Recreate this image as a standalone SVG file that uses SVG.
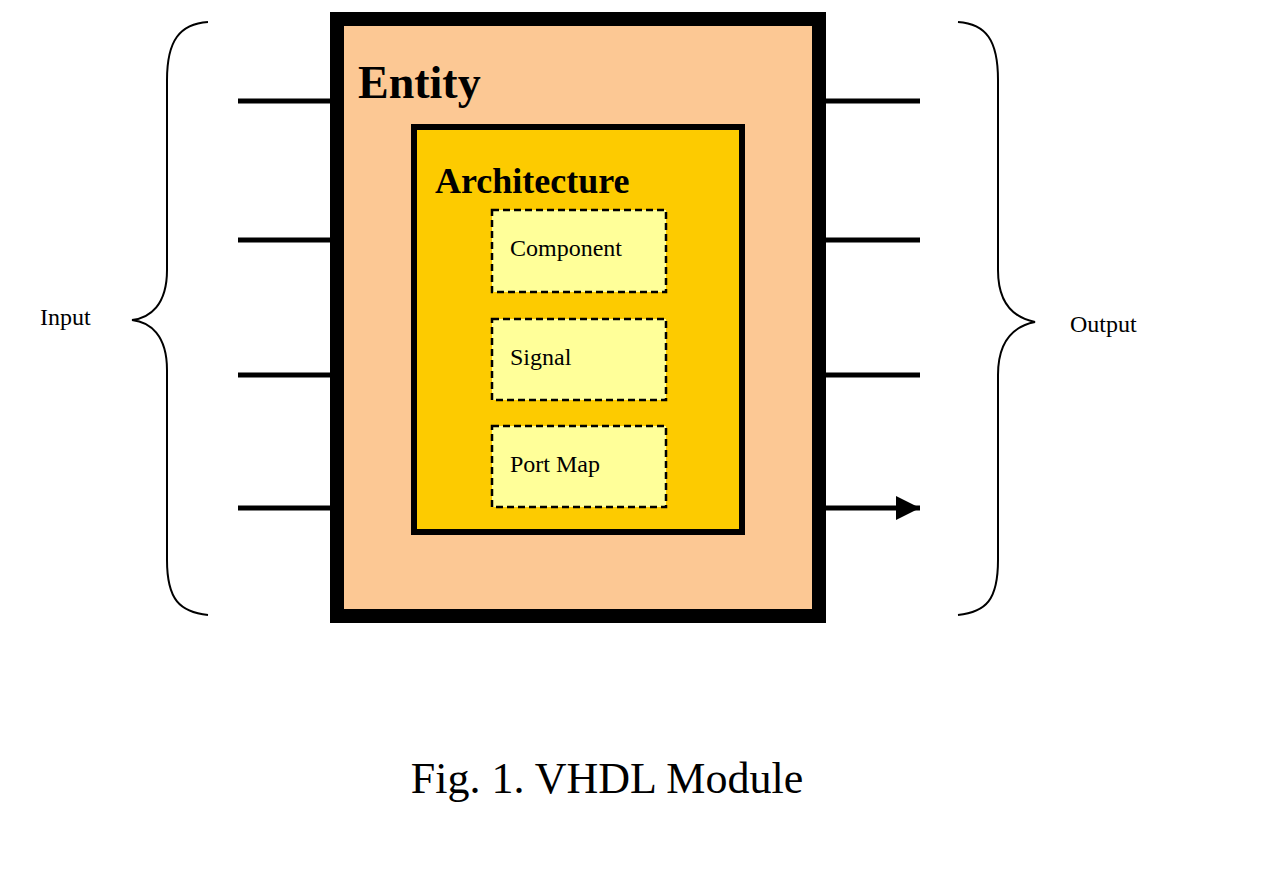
<svg xmlns="http://www.w3.org/2000/svg" width="1261" height="879" viewBox="0 0 1261 879">
<style>
.t{font-family:"Liberation Serif",serif;fill:#000}
.b{font-weight:bold}
.dash{fill:#ffff99;stroke:#000;stroke-width:2.5;stroke-dasharray:7 4}
.ar{stroke:#000;stroke-width:5;fill:none}
.br{stroke:#000;stroke-width:2;fill:none}
</style>
<defs><marker id="ah" viewBox="0 0 10 10" refX="9" refY="5" markerWidth="5" markerHeight="6" orient="auto" markerUnits="userSpaceOnUse"><path d="M0,0 L10,5 L0,10 z"/></marker>
<marker id="a" viewBox="0 0 10 10" refX="10" refY="5" markerWidth="24" markerHeight="28" orient="auto" markerUnits="userSpaceOnUse"><path d="M0,0 L10,5 L0,10 z" fill="#000"/></marker></defs>
<rect width="1261" height="879" fill="#fff"/>
<g id="entity"><rect x="337" y="19" width="482" height="597" fill="#fcc894" stroke="#000" stroke-width="14"/>
<text class="t b" x="358" y="98" font-size="46">Entity</text></g>
<g id="architecture"><rect x="414" y="127" width="328" height="405" fill="#fdcb00" stroke="#000" stroke-width="6"/>
<text class="t b" x="435" y="193" font-size="36">Architecture</text></g>
<g id="component"><rect class="dash" x="492" y="210" width="174" height="82"/><text class="t" x="510" y="256" font-size="24">Component</text></g>
<g id="signal"><rect class="dash" x="492" y="319" width="174" height="81"/><text class="t" x="510" y="365" font-size="24">Signal</text></g>
<g id="portmap"><rect class="dash" x="492" y="426" width="174" height="81"/><text class="t" x="510" y="472" font-size="24">Port Map</text></g>
<g id="connectors">
<path class="ar" marker-end="url(#a)" d="M238,101H332M238,240H332M238,375H332M238,508H332M826,101H920M826,240H920M826,375H920M826,508H920"/>
<path class="br" d="M208,22 C180,24 167,40 167,80 V270 C167,305 150,318 132,320 C150,322 167,335 167,370 V560 C167,600 180,612 208,615"/>
<path class="br" d="M958,22 C986,24 998,40 998,80 V270 C998,305 1015,318 1035,322 C1015,326 998,340 998,375 V560 C998,600 986,612 958,615"/>
</g>
<text class="t" x="40" y="325" font-size="24">Input</text>
<text class="t" x="1070" y="332" font-size="24">Output</text>
<text class="t" x="607" y="793" font-size="44" text-anchor="middle">Fig. 1. VHDL Module</text>
</svg>
